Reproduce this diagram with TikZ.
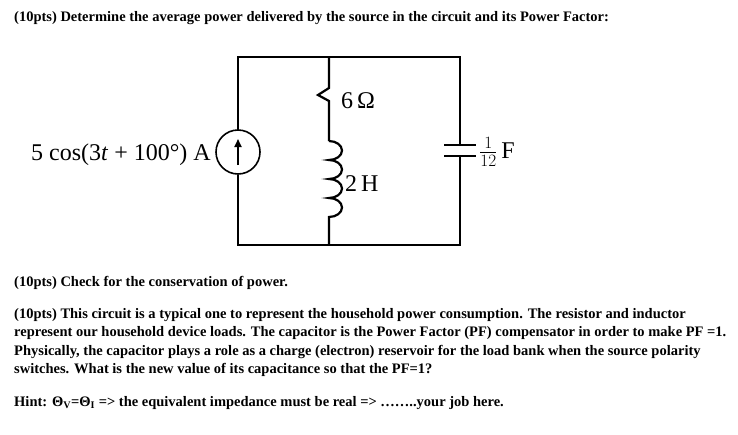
\documentclass[tikz,border=0pt]{standalone}
\usepackage{fontspec}
\setmainfont{Liberation Serif}
\usetikzlibrary{arrows.meta}
\begin{document}
\begin{tikzpicture}[x=1pt,y=-1pt,
  wire/.style={line width=2.2pt},
  txt/.style={anchor=west,inner sep=0pt,font=\bfseries\fontsize{14.5}{17}\selectfont},
  lab/.style={inner sep=0pt,font=\fontsize{24}{26}\selectfont}]
\useasboundingbox (0,0) rectangle (738,434);
\node[txt] (t1) at (14,18) {(10pts) Determine the average power delivered by the source in the circuit and its Power Factor:};
\coordinate (tl) at (238,57); \coordinate (tm) at (329,57); \coordinate (tr) at (460,57);
\coordinate (bl) at (238,245); \coordinate (bm) at (329,245); \coordinate (br) at (460,245);
\node[draw,circle,line width=1.6pt,minimum size=44pt,inner sep=0pt] (src) at (238,152) {};
\draw[wire,line cap=round] (src.north) -- (tl) -- (tr) -- (460,145);
\draw[wire] (src.south) -- (bl) -- (br) -- (460,156);
\draw[line width=1.8pt,-{Triangle[length=8pt,width=7pt]}] (238,165) -- (238,139);
% resistor
\draw[wire] (tm) -- (329,88) -- (318,95) -- (329,101) -- (329,141);
% inductor
\draw[wire] (329,141)
  arc (90:-90:13pt and 9.5pt) arc (90:-90:13pt and 9.5pt) arc (90:-90:13pt and 9.5pt) arc (90:-90:13pt and 9.5pt) -- (bm);
% capacitor
\draw[wire] (444,145) -- (476,145);
\draw[wire] (444,156) -- (476,156);
\node[lab,anchor=west] (r) at (341,101) {6\,Ω};
\node[lab,anchor=west] (l) at (345,184) {2\,H};
\node[lab,anchor=east] (s) at (211,155) {5 cos(3\textit{t} + 100°) A};
\node[lab,anchor=west] (c) at (479,152) {$\frac{1}{12}$\,F};
\node[txt] (t2) at (14,283) {(10pts) Check for the conservation of power.};
\node[txt] at (14,315) {(10pts) This circuit is a typical one to represent the household power consumption. The resistor and inductor};
\node[txt] at (14,333) {represent our household device loads. The capacitor is the Power Factor (PF) compensator in order to make PF =1.};
\node[txt] at (14,352) {Physically, the capacitor plays a role as a charge (electron) reservoir for the load bank when the source polarity};
\node[txt] at (14,370) {switches. What is the new value of its capacitance so that the PF=1?};
\node[txt] at (14,403) {Hint: Θ\textsubscript{V}=Θ\textsubscript{I} => the equivalent impedance must be real => ……..your job here.};
\end{tikzpicture}
\end{document}
